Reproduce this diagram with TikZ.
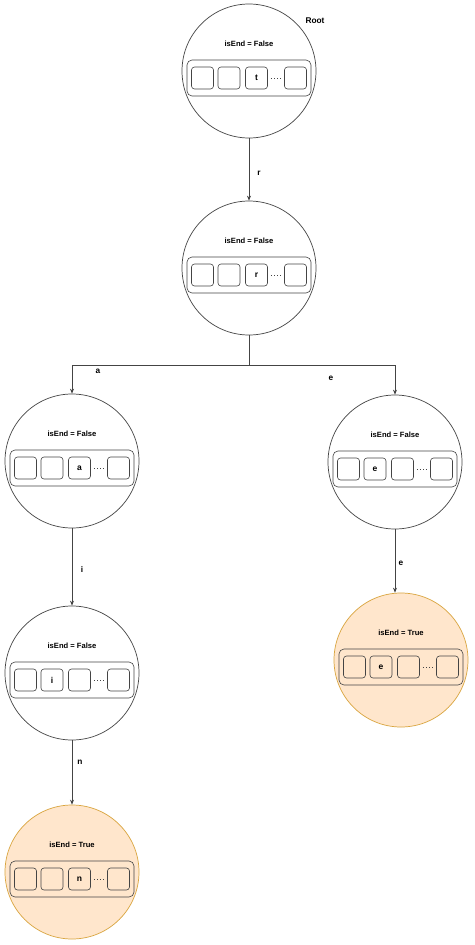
\documentclass[tikz,border=0pt]{standalone}
\usepackage{fontspec}
\setmainfont{Liberation Sans}
\usetikzlibrary{calc,arrows.meta}
\definecolor{linegray}{HTML}{444444}
\definecolor{leaffill}{HTML}{FFE6CC}
\definecolor{leafdraw}{HTML}{D9A53F}
\tikzset{
  plainnode/.style={circle,draw=linegray,line width=0.7pt,fill=white,minimum size=134pt,inner sep=0pt},
  leafnode/.style={circle,draw=leafdraw,line width=0.7pt,fill=leaffill,minimum size=134pt,inner sep=0pt},
  isendtxt/.style={font=\bfseries\fontsize{7.6}{8}\selectfont,inner sep=0pt},
  arraybox/.style={draw=linegray,line width=0.6pt,rounded corners=5pt,minimum width=124pt,minimum height=36pt,inner sep=0pt},
  cellbox/.style={draw=linegray,line width=0.6pt,rounded corners=3pt,minimum width=22pt,minimum height=22pt,inner sep=0pt,font=\bfseries\fontsize{8.5}{9}\selectfont},
  dotline/.style={draw=linegray,line width=0.7pt,dash pattern=on 0.8pt off 2.4pt,shorten <=3pt,shorten >=2pt},
  conn/.style={draw=linegray,line width=0.7pt},
  arr/.style={conn,-{Stealth[length=5pt,width=4pt]}},
  edgelabel/.style={font=\bfseries\fontsize{8.3}{9}\selectfont,inner sep=0pt}
}
\newcommand{\trieNode}[6]{%
  \node[#3] (#1) at #2 {};
  \node[isendtxt] (#1-t) at ($(#1)+(0,-27)$) {isEnd = #4};
  \node[arraybox] (#1-r) at ($(#1)+(0,7)$) {};
  \foreach \i/\dx in {1/-46.5,2/-20,3/7.5,4/46.5}{%
    \node[cellbox] (#1-b\i) at ($(#1)+(\dx,7)$) {\ifnum\i=#5 #6\fi};
  }
  \draw[dotline] (#1-b3.east) -- (#1-b4.west);
}
\begin{document}
\begin{tikzpicture}[x=1pt,y=-1pt]
\useasboundingbox (0,0) rectangle (474,945);
\fill[white] (0,0) rectangle (474,945);

\trieNode{root}{(249,71)}{plainnode}{False}{3}{t}
\trieNode{nr}{(249,268)}{plainnode}{False}{3}{r}
\trieNode{na}{(72,461)}{plainnode}{False}{3}{a}
\trieNode{ne}{(395,462)}{plainnode}{False}{2}{e}
\trieNode{ni}{(72,673)}{plainnode}{False}{2}{i}
\trieNode{nn}{(72,872)}{leafnode}{True}{3}{n}
\trieNode{nle}{(401,660)}{leafnode}{True}{2}{e}

\node[edgelabel] (rootlbl) at (315,21) {Root};

\draw[arr] (root) -- (nr);
\node[edgelabel] (lr) at (259,173) {r};

\coordinate (br) at (249,365);
\draw[conn] (nr.south) -- (br);
\draw[arr] (br) -| (na);
\draw[arr] (br) -| (ne);
\node[edgelabel] (la) at (98,371) {a};
\node[edgelabel] (le) at (331,378) {e};

\draw[arr] (na) -- (ni);
\node[edgelabel] (li) at (82,569) {i};

\draw[arr] (ni) -- (nn);
\node[edgelabel] (ln) at (80,762) {n};

\draw[arr] (ne.south) -- (ne.south |- nle.north);
\node[edgelabel] (le2) at (401,563) {e};
\end{tikzpicture}
\end{document}
